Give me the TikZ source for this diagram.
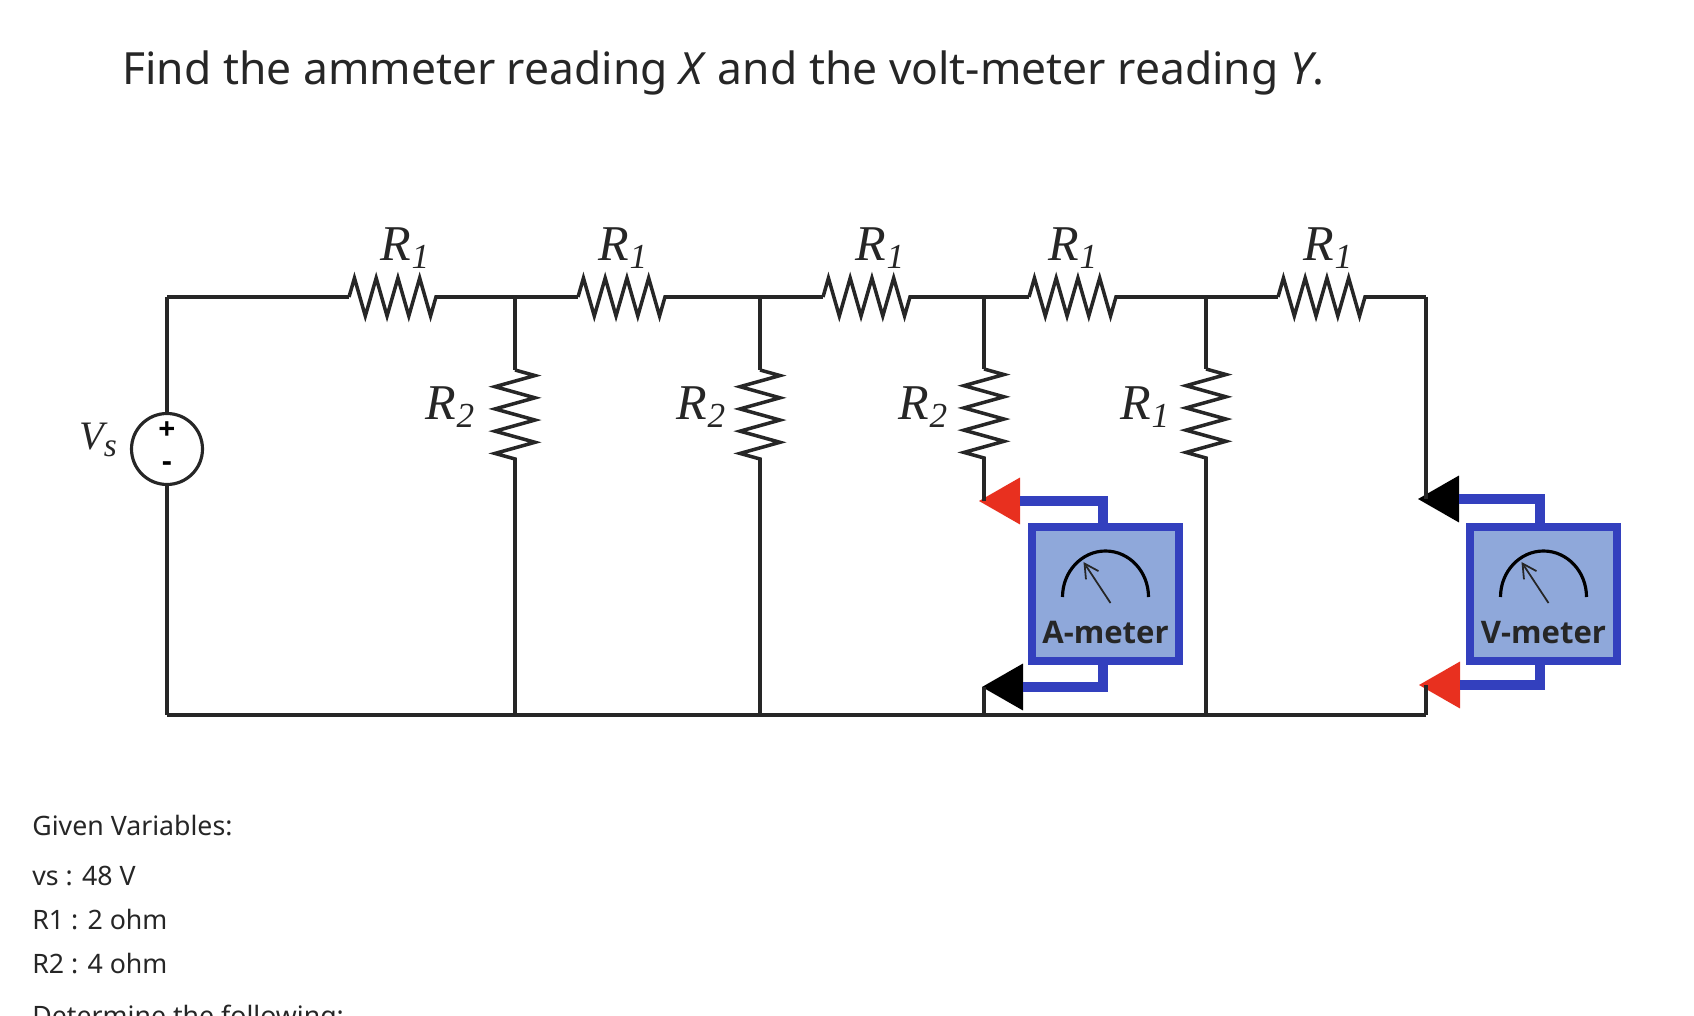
\documentclass[tikz,border=0pt]{standalone}
\usepackage{fontspec}
\setmainfont{Noto Sans}
\newfontfamily\labelfont{Liberation Serif}
\newfontfamily\boldfont{Open Sans}
\usetikzlibrary{arrows.meta,decorations.pathmorphing,shapes.geometric}
\definecolor{meterblue}{HTML}{3340BE}
\definecolor{meterfill}{HTML}{8FA8DA}
\definecolor{tipred}{HTML}{E8301F}
\definecolor{textgray}{HTML}{262626}
\newcommand{\rlabel}[2]{{\labelfont\itshape #1\raisebox{-0.36ex}{\fontsize{20}{20}\selectfont #2}}}
\begin{document}
\begin{tikzpicture}[x=0.02cm,y=-0.02cm]
\tikzset{wire/.style={line width=2pt,black!85}}

\tikzset{resistorH/.style={
wire,decorate,
decoration={zigzag,segment length=0.435cm,amplitude=0.38cm}}}

\tikzset{resistorV/.style={
wire,decorate,
decoration={zigzag,segment length=0.445cm,amplitude=0.4cm}}}

\tikzset{rname/.style={
black!85,inner sep=0pt,
font=\fontsize{28.5}{30}\selectfont}}

\tikzset{textline/.style={
anchor=west,inner sep=0pt,textgray,
font=\fontsize{15.2}{18}\selectfont}}

\tikzset{source/.style={
circle,draw,line width=1.8pt,black!85,
minimum size=1.42cm,inner sep=0pt}}

\tikzset{polarity/.style={
inner sep=0pt,
font=\boldfont\bfseries\fontsize{17}{17}\selectfont}}

\tikzset{meter/.style={
rectangle,draw=meterblue,fill=meterfill,line width=4.5pt,
minimum width=2.94cm,
minimum height=2.68cm}}

\tikzset{meterwire/.style={meterblue,line width=5.2pt}}

\tikzset{probe/.style={
isosceles triangle,isosceles triangle stretches,
shape border rotate=180,inner sep=0pt,outer sep=0pt,
minimum height=0.82cm,
minimum width=0.94cm}}

\tikzset{metername/.style={
black!85,inner sep=0pt,
font=\boldfont\bfseries\fontsize{17.7}{18}\selectfont}}

\tikzset{dial/.style={black,line width=1.8pt}}

\tikzset{needle/.style={
black!85,line width=1pt,
-{Straight Barb[length=0.28cm,width=0.3cm]}}}

\useasboundingbox (0,0) rectangle (1694,1016);

% question text
\draw
(122,73) 
node[textline,name=uTitle,font=\fontsize{25.26}{28}\selectfont]
{Find the ammeter reading \textit{X} and the volt-meter reading \textit{Y}.};

\draw
(32,826) node[textline,name=uGiven] {Given Variables:}
(32,876) node[textline,name=uVs] {vs : 48 V}
(32,920) node[textline,name=uRa] {R1 : 2 ohm}
(32,964) node[textline,name=uRb] {R2 : 4 ohm}
(32,1018) node[textline,name=uDetermine] {Determine the following:};

% corners and junctions
\path
(167,297) coordinate (TL)
(167,715) coordinate (BL)
(1426,297) coordinate (TR)
(1426,715) coordinate (BR)
(515,297) coordinate (J1)
(760,297) coordinate (J2)
(984,297) coordinate (J3)
(1206,297) coordinate (J4)
(515,715) coordinate (K1)
(760,715) coordinate (K2)
(984,715) coordinate (K3)
(1206,715) coordinate (K4);

% source
\draw
(167,449) 
node[source,name=uSource] {}
(uSource.center) ++(0,-18)
node[polarity,name=uPlus] {+}
(uSource.center) ++(0,18)
node[polarity,name=uMinus] {-}
(uSource.west) ++(-32,-9)
node[black!85,inner sep=0pt,name=uVsName,font=\fontsize{23}{24}\selectfont]
{{\labelfont\itshape V\raisebox{-0.4ex}{\fontsize{19}{19}\selectfont s}}};

\draw[wire] (uSource.north) -- (TL);
\draw[wire] (uSource.south) -- (BL);

% top row
\draw[wire] (TL) -- (349,297) coordinate (A1);
\draw[resistorH] (A1) -- (437,297) coordinate (B1);
\draw[wire] (B1) -- (J1) -- (578,297) coordinate (A2);
\draw[resistorH] (A2) -- (666,297) coordinate (B2);
\draw[wire] (B2) -- (J2) -- (823,297) coordinate (A3);
\draw[resistorH] (A3) -- (911,297) coordinate (B3);
\draw[wire] (B3) -- (J3) -- (1029,297) coordinate (A4);
\draw[resistorH] (A4) -- (1117,297) coordinate (B4);
\draw[wire] (B4) -- (J4) -- (1278,297) coordinate (A5);
\draw[resistorH] (A5) -- (1366,297) coordinate (B5);
\draw[wire] (B5) -- (TR);

\draw
(405,248) node[rname,name=uRtop1] {\rlabel{R}{1}}
(623,248) node[rname,name=uRtop2] {\rlabel{R}{1}}
(880,248) node[rname,name=uRtop3] {\rlabel{R}{1}}
(1073,248) node[rname,name=uRtop4] {\rlabel{R}{1}}
(1328,248) node[rname,name=uRtop5] {\rlabel{R}{1}};

% branches
\draw[wire] (J1) -- (515,370) coordinate (C1);
\draw[resistorV] (C1) -- (515,460) coordinate (D1);
\draw[wire] (D1) -- (K1);

\draw[wire] (J2) -- (760,370) coordinate (C2);
\draw[resistorV] (C2) -- (760,460) coordinate (D2);
\draw[wire] (D2) -- (K2);

\draw[wire] (J3) -- (984,369) coordinate (C3);
\draw[resistorV] (C3) -- (984,459) coordinate (D3);

\draw[wire] (J4) -- (1206,369) coordinate (C4);
\draw[resistorV] (C4) -- (1206,459) coordinate (D4);
\draw[wire] (D4) -- (K4);

\draw
(450,407) node[rname,name=uRmid1] {\rlabel{R}{2}}
(701,407) node[rname,name=uRmid2] {\rlabel{R}{2}}
(923,407) node[rname,name=uRmid3] {\rlabel{R}{2}}
(1145,407) node[rname,name=uRmid4] {\rlabel{R}{1}};

% bottom row
\draw[wire,line width=2.4pt] (BL) -- (BR);

% A-meter
\draw
(1105.5,594) 
node[meter,name=uAmeter] {}
(uAmeter.center) ++(0,39)
node[metername,name=uAname] {A-meter}
(979,501)
node[probe,anchor=apex,fill=tipred,name=uAtop] {}
(982,687)
node[probe,anchor=apex,fill=black,name=uAbot] {};

\draw[meterwire] (uAtop.east) -| ([xshift=-0.05cm]uAmeter.north);
\draw[meterwire] (uAbot.east) -| ([xshift=-0.05cm]uAmeter.south);
\draw[wire] (D3) -- (uAtop.apex -| D3);
\draw[wire] (K3) -- (uAbot.apex -| K3);

\draw[dial]
(uAmeter.center) ++(-43,3)
arc[start angle=180,end angle=360,x radius=43,y radius=46];
\draw[needle]
(uAmeter.center) ++(5,9) -- ++(-27,-41);

% V-meter
\draw
(1543.5,594) 
node[meter,name=uVmeter] {}
(uVmeter.center) ++(0,39)
node[metername,name=uVname] {V-meter}
(1418,499)
node[probe,anchor=apex,fill=black,name=uVtop] {}
(1419,685)
node[probe,anchor=apex,fill=tipred,name=uVbot] {};

\draw[meterwire] (uVtop.east) -| ([xshift=-0.07cm]uVmeter.north);
\draw[meterwire] (uVbot.east) -| ([xshift=-0.07cm]uVmeter.south);
\draw[wire] (TR) -- (uVtop.apex -| TR);
\draw[wire] (BR) -- (uVbot.apex -| BR);

\draw[dial]
(uVmeter.center) ++(-43,3)
arc[start angle=180,end angle=360,x radius=43,y radius=46];
\draw[needle]
(uVmeter.center) ++(5,9) -- ++(-27,-41);

\end{tikzpicture}
\end{document}
